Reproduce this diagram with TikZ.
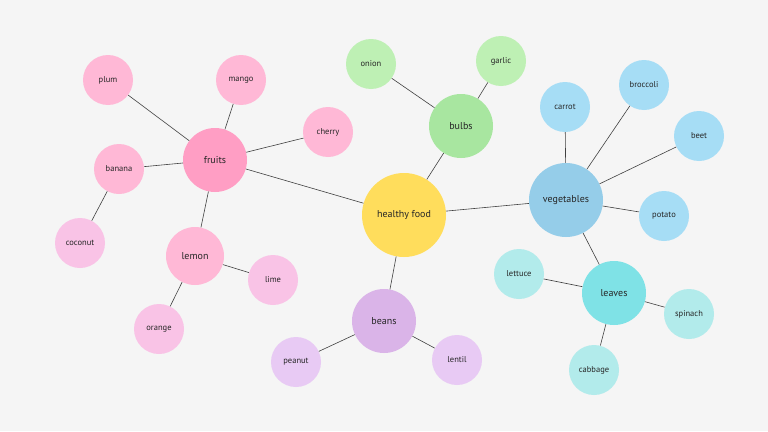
\documentclass[tikz,border=0pt]{standalone}
\usepackage{fontspec}
\setmainfont{PT Sans}
\begin{document}
\begin{tikzpicture}[x=1pt,y=-1pt,
  b/.style={circle,inner sep=0pt,minimum size=50pt,font=\fontsize{8.5}{10}\selectfont,text=black!85},
  m/.style={b,minimum size=64pt,font=\fontsize{10}{12}\selectfont},
  e/.style={draw=black!75,line width=0.6pt}]
\fill[black!4] (0,0) rectangle (768,431);
\useasboundingbox (0,0) rectangle (768,431);
\definecolor{cyel}{HTML}{FFDD5C}
\definecolor{cfr}{HTML}{FF9EC4}\definecolor{cfr2}{HTML}{FFB8D6}\definecolor{cfr3}{HTML}{F9C3E6}
\definecolor{cgr}{HTML}{A8E6A0}\definecolor{cgr2}{HTML}{BEF0B4}
\definecolor{cbl}{HTML}{95CDE9}\definecolor{cbl2}{HTML}{A6DDF5}
\definecolor{ccy}{HTML}{7FE2E6}\definecolor{ccy2}{HTML}{B2EBEB}
\definecolor{cpu}{HTML}{DAB4E8}\definecolor{cpu2}{HTML}{E8CAF4}
\node[m,minimum size=84pt,fill=cyel] (hf) at (404,215) {healthy food};
\node[m,fill=cfr] (fr) at (215,160) {fruits};
\node[b,fill=cfr2] (plum) at (108,80) {plum};
\node[b,fill=cfr2] (mango) at (241,80) {mango};
\node[b,fill=cfr2] (cherry) at (328,132) {cherry};
\node[b,fill=cfr2] (banana) at (119,169) {banana};
\node[b,fill=cfr3] (coconut) at (80,243) {coconut};
\node[m,minimum size=58pt,fill=cfr2] (lemon) at (195,256) {lemon};
\node[b,fill=cfr3] (lime) at (273,280) {lime};
\node[b,fill=cfr3] (orange) at (159,329) {orange};
\node[m,fill=cgr] (bu) at (461,126) {bulbs};
\node[b,fill=cgr2] (onion) at (371,64) {onion};
\node[b,fill=cgr2] (garlic) at (501,61) {garlic};
\node[m,minimum size=74pt,fill=cbl] (veg) at (566,200) {vegetables};
\node[b,fill=cbl2] (carrot) at (565,107) {carrot};
\node[b,fill=cbl2] (broc) at (644,85) {broccoli};
\node[b,fill=cbl2] (beet) at (699,136) {beet};
\node[b,fill=cbl2] (potato) at (664,216) {potato};
\node[m,fill=ccy] (lv) at (614,293) {leaves};
\node[b,fill=ccy2] (lettuce) at (519,274) {lettuce};
\node[b,fill=ccy2] (spinach) at (689,314) {spinach};
\node[b,fill=ccy2] (cabbage) at (594,370) {cabbage};
\node[m,fill=cpu] (be) at (384,321) {beans};
\node[b,fill=cpu2] (peanut) at (296,362) {peanut};
\node[b,fill=cpu2] (lentil) at (457,360) {lentil};
\begin{scope}[on background layer/.style={}]
\end{scope}
\foreach \a/\b in {hf/fr,hf/bu,hf/veg,hf/be,fr/plum,fr/mango,fr/cherry,fr/banana,fr/lemon,banana/coconut,lemon/lime,lemon/orange,bu/onion,bu/garlic,veg/carrot,veg/broc,veg/beet,veg/potato,veg/lv,lv/lettuce,lv/spinach,lv/cabbage,be/peanut,be/lentil}
  \draw[e] (\a) -- (\b);
\end{tikzpicture}
\end{document}
